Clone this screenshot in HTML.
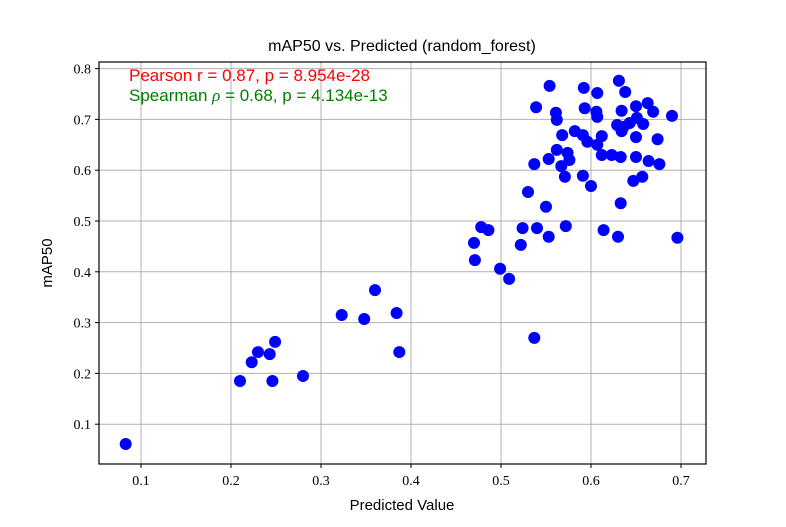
<!DOCTYPE html>
<html><head><meta charset="utf-8"><style>
body{margin:0;background:#fff;width:786px;height:522px;overflow:hidden}
svg text{font-family:"Liberation Sans",sans-serif}
.tk{font-family:"Liberation Serif",serif;font-size:14px}
</style></head><body>
<svg id="chart" width="786" height="522" xmlns="http://www.w3.org/2000/svg">
<g id="grid"></g>
<g id="pts"></g>
<rect x="99" y="62" width="607" height="402" fill="none" stroke="#000" stroke-width="1.2"/>
<g id="ticks"></g>
<text x="402" y="51" text-anchor="middle" font-size="16">mAP50 vs. Predicted (random_forest)</text>
<text x="402" y="510" text-anchor="middle" font-size="15">Predicted Value</text>
<text transform="translate(52,263) rotate(-90)" text-anchor="middle" font-size="15">mAP50</text>
<text x="129" y="81" font-size="17" fill="#ff0000">Pearson r = 0.87, p = 8.954e-28</text>
<text x="129" y="101" font-size="17" fill="#008000">Spearman <tspan font-family="Liberation Serif" font-style="italic">ρ</tspan> = 0.68, p = 4.134e-13</text>
</svg>
<script>
const xTicks=[0.1,0.2,0.3,0.4,0.5,0.6,0.7];
const yTicks=[0.1,0.2,0.3,0.4,0.5,0.6,0.7,0.8];
const predicted=[0.554,0.592,0.607,0.631,0.638,0.539,0.561,0.562,0.593,0.606,0.607,0.634,0.650,0.663,0.669,0.690,0.629,0.636,0.643,0.651,0.658,0.634,0.650,0.674,0.568,0.582,0.591,0.596,0.612,0.607,0.562,0.574,0.553,0.576,0.612,0.623,0.633,0.650,0.664,0.676,0.537,0.567,0.571,0.591,0.600,0.647,0.657,0.530,0.550,0.633,0.478,0.486,0.524,0.540,0.553,0.572,0.614,0.630,0.696,0.470,0.522,0.471,0.499,0.509,0.537,0.360,0.348,0.323,0.384,0.387,0.249,0.223,0.230,0.243,0.210,0.246,0.280,0.083];
const map50=[0.766,0.762,0.752,0.776,0.754,0.724,0.713,0.699,0.722,0.715,0.705,0.717,0.726,0.732,0.715,0.707,0.689,0.685,0.693,0.703,0.691,0.677,0.665,0.661,0.669,0.677,0.669,0.656,0.667,0.650,0.640,0.634,0.622,0.620,0.630,0.630,0.626,0.626,0.618,0.612,0.612,0.608,0.587,0.589,0.569,0.579,0.587,0.557,0.528,0.535,0.488,0.482,0.486,0.486,0.469,0.490,0.482,0.469,0.467,0.457,0.453,0.423,0.406,0.386,0.270,0.364,0.307,0.315,0.319,0.242,0.262,0.222,0.242,0.238,0.185,0.185,0.195,0.061];
const X=v=>501+(v-0.5)*900, Y=v=>221-(v-0.5)*508;
const NS="http://www.w3.org/2000/svg";
const g=document.getElementById('grid'),t=document.getElementById('ticks'),p=document.getElementById('pts');
function mk(tag,a,parent){const e=document.createElementNS(NS,tag);for(const k in a)e.setAttribute(k,a[k]);parent.appendChild(e);return e;}
xTicks.forEach(v=>{
 const l=mk('line',{x1:X(v),x2:X(v),y1:62,y2:464,stroke:'#b0b0b0','stroke-width':1},g);
 
 
 const k=mk('line',{x1:X(v),x2:X(v),y1:464,y2:468,stroke:'#000'},t);
 
 
 const s=mk('text',{x:X(v),y:485,'text-anchor':'middle',class:'tk'},t);s.textContent=v.toFixed(1);
 
 
});
yTicks.forEach(v=>{
 const l=mk('line',{x1:99,x2:706,y1:Y(v),y2:Y(v),stroke:'#b0b0b0','stroke-width':1},g);
 
 
 const k=mk('line',{x1:95,x2:99,y1:Y(v),y2:Y(v),stroke:'#000'},t);
 
 
 const s=mk('text',{x:91,y:Y(v)+5,'text-anchor':'end',class:'tk'},t);s.textContent=v.toFixed(1);
 
 
});
predicted.forEach((v,i)=>{
 const c=mk('circle',{cx:X(v),cy:Y(map50[i]),r:6,fill:'#0000ff'},p);
 
 
});
</script>
</body></html>
